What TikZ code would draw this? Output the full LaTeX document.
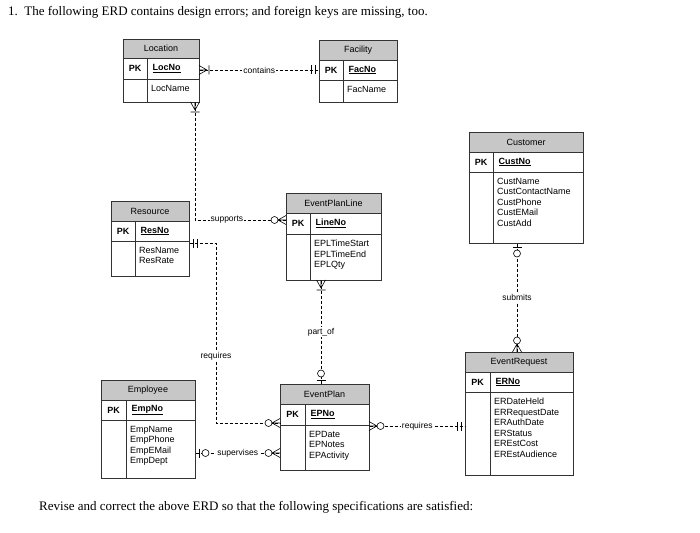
\documentclass[tikz,border=0pt]{standalone}
\usepackage{fontspec}
\setmainfont{Liberation Serif}
\newfontfamily\erdfont{Liberation Sans}
\usetikzlibrary{calc}
\tikzset{
  tb/.style={draw=black!80,line width=0.6pt},
  conn/.style={dash pattern=on 3pt off 2pt,line width=0.6pt},
  lbl/.style={fill=white,inner sep=1pt,font=\erdfont\fontsize{8.5}{10}\selectfont},
  mk/.style={line width=0.6pt},
}
\def\erdparse#1,#2,#3,#4,#5,#6,#7\relax{\def\xa{#1}\def\ya{#2}\def\xb{#3}\def\yt{#4}\def\yp{#5}\def\yb{#6}\def\xd{#7}}
% \erd{name}{x1,y1,x2,ytitle,ypk,y2,xdiv}{title}{pk}{attrs}
\newcommand\erd[5]{%
  \erdparse#2\relax
  \fill[black!22] (\xa,\ya) rectangle (\xb,\yt);
  \node[tb,inner sep=0,minimum width={(\xb-\xa)*1pt},minimum height={(\yb-\ya)*1pt},anchor=north west] (#1) at (\xa,\ya) {};
  \draw[tb] (\xa,\yt) -- (\xb,\yt) (\xa,\yp) -- (\xb,\yp) (\xd,\yt) -- (\xd,\yb);
  \node[font=\erdfont\fontsize{9}{10.5}\selectfont] at ({(\xa+\xb)/2},{(\ya+\yt)/2}) {#3};
  \node[font=\erdfont\bfseries\fontsize{9}{10.5}\selectfont] at ({(\xa+\xd)/2},{(\yt+\yp)/2}) {PK};
  \node[font=\erdfont\bfseries\fontsize{9}{10.5}\selectfont,anchor=west] at (\xd+2,{(\yt+\yp)/2}) {\underline{#4}};
  \node[font=\erdfont\fontsize{9}{10.5}\selectfont,anchor=north west,align=left,inner sep=0] at (\xd+4,\yp+6) {#5};
}
\newcommand\crowm[2]{\begin{scope}[shift={#1},rotate=#2,mk]\draw (8,0)--(0,4.5) (8,0)--(0,-4.5) (8,0)--(0,0) (10,-4.5)--(10,4.5);\end{scope}}
\newcommand\crowz[2]{\begin{scope}[shift={#1},rotate=#2,mk]\draw (8,0)--(0,4.5) (8,0)--(0,-4.5) (8,0)--(0,0); \draw[fill=white] (11.5,0) circle (3.5);\end{scope}}
\newcommand\oneone[2]{\begin{scope}[shift={#1},rotate=#2,mk]\draw (4,-4.5)--(4,4.5) (8,-4.5)--(8,4.5);\end{scope}}
\newcommand\zeroone[2]{\begin{scope}[shift={#1},rotate=#2,mk]\draw (4,-4.5)--(4,4.5); \draw[fill=white] (10.5,0) circle (3.5);\end{scope}}
\begin{document}
\begin{tikzpicture}[x=1pt,y=-1pt]
\useasboundingbox[fill=white] (0,0) rectangle (700,532);
\node[anchor=west,font=\fontsize{13}{15}\selectfont,inner sep=0] (head) at (8,12) {1.\ \ The following ERD contains design errors; and foreign keys are missing, too.};
\node[anchor=west,font=\fontsize{13}{15}\selectfont,inner sep=0] (foot) at (39,507) {Revise and correct the above ERD so that the following specifications are satisfied:};

\erd{loc}{123,39,199,58,79,102,147}{Location}{LocNo}{LocName}
\erd{fac}{319,40,397,60,80,102,343}{Facility}{FacNo}{FacName}
\erd{cust}{469,132,583,152,172,243,493}{Customer}{CustNo}{CustName\\CustContactName\\CustPhone\\CustEMail\\CustAdd}
\erd{res}{111,201,189,221,241,276,135}{Resource}{ResNo}{ResName\\ResRate}
\erd{epl}{286,193,381,213,234,280,310}{EventPlanLine}{LineNo}{EPLTimeStart\\EPLTimeEnd\\EPLQty}
\erd{emp}{101,380,195,400,420,478,126}{Employee}{EmpNo}{EmpName\\EmpPhone\\EmpEMail\\EmpDept}
\erd{ep}{280,384,369,404,425,470,305}{EventPlan}{EPNo}{EPDate\\EPNotes\\EPActivity}
\erd{er}{465,352,573,372,392,475,490}{EventRequest}{ERNo}{ERDateHeld\\ERRequestDate\\ERAuthDate\\ERStatus\\EREstCost\\EREstAudience}

% contains
\draw[conn] (loc.east|-0,70) -- node[lbl]{contains} (fac.west|-0,70);
\crowm{(199,70)}{0}\oneone{(319,70)}{180}
% supports
\coordinate (s1) at (195,220);
\draw[conn] (loc.south-|195,0) -- (s1) -- node[lbl,pos=0.35]{supports} (epl.west|-0,220);
\crowm{(195,102)}{-90}\crowz{(286,220)}{180}
% requires (resource)
\coordinate (r1) at (216,243); \coordinate (r2) at (216,423);
\draw[conn] (res.east|-0,243) -- (r1) -- node[lbl,pos=0.63]{requires} (r2) -- (ep.west|-0,423);
\oneone{(189,243)}{0}\crowz{(280,423)}{180}
% supervises
\draw[conn] (emp.east|-0,453) -- node[lbl]{supervises} (ep.west|-0,453);
\zeroone{(195,453)}{0}\crowz{(280,453)}{180}
% part_of
\draw[conn] (epl.south-|321,0) -- node[lbl]{part\_of} (ep.north-|321,0);
\crowm{(321,280)}{-90}\zeroone{(321,384)}{90}
% requires (EP-ER)
\draw[conn] (ep.east|-0,426) -- node[lbl]{requires} (er.west|-0,426);
\crowz{(369,426)}{0}\oneone{(465,426)}{180}
% submits
\draw[conn] (cust.south-|517,0) -- node[lbl]{submits} (er.north-|517,0);
\zeroone{(517,243)}{-90}\crowz{(517,352)}{90}
\end{tikzpicture}
\end{document}
